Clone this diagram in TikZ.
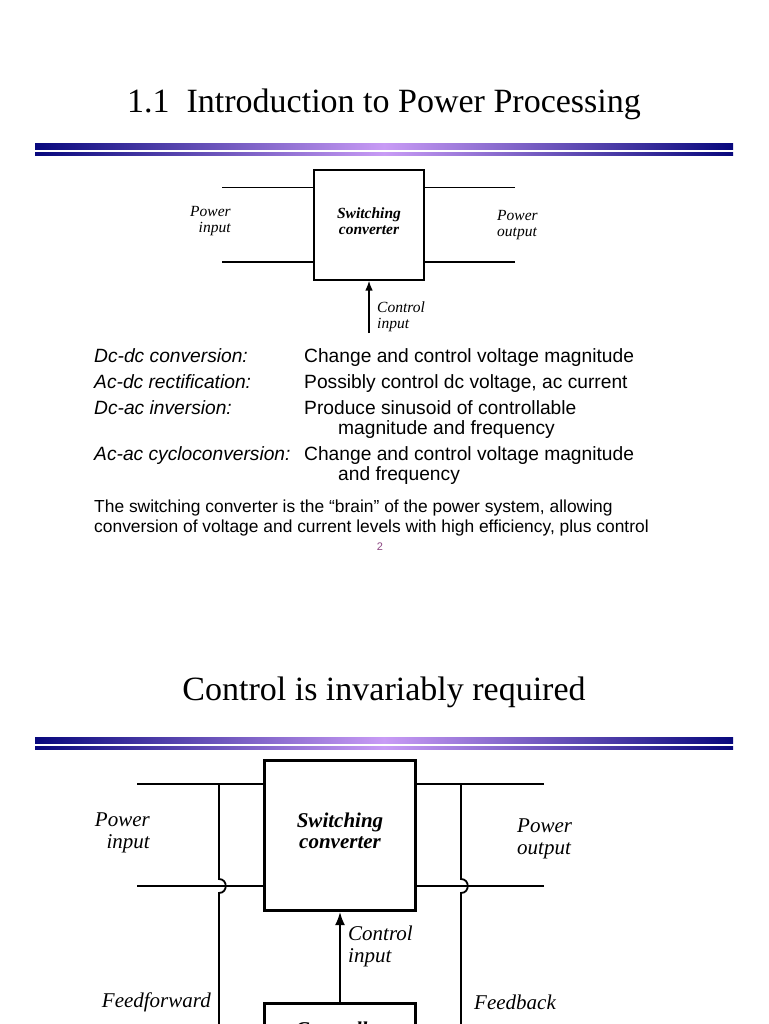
\documentclass[tikz,border=0pt]{standalone}
\usepackage{fontspec}
\setmainfont{Liberation Serif}
\setsansfont{Liberation Sans}
\usetikzlibrary{arrows.meta}
\definecolor{barnavy}{RGB}{8,8,125}
\definecolor{barlight}{RGB}{200,155,245}
\definecolor{pagenum}{RGB}{140,70,130}
\tikzset{
  ttl/.style={font=\fontsize{34}{36}\selectfont, anchor=base, inner sep=0},
  barA/.style={left color=barnavy, right color=barnavy, middle color=barlight, draw=none},
  labA/.style={font=\fontsize{15.5}{16}\selectfont\itshape, align=left, inner sep=0, anchor=north west},
  boxlabA/.style={font=\fontsize{15.5}{16}\selectfont\bfseries\itshape, align=center, inner sep=0},
  labB/.style={font=\fontsize{21}{21.5}\selectfont\itshape, inner sep=0},
  boxlabB/.style={font=\fontsize{21}{21.5}\selectfont\bfseries\itshape, align=center, inner sep=0},
  listL/.style={font=\sffamily\itshape\fontsize{19.2}{20}\selectfont, anchor=base west, inner sep=0},
  listR/.style={font=\sffamily\fontsize{19.2}{20}\selectfont, anchor=base west, inner sep=0},
  para/.style={font=\sffamily\fontsize{17.4}{20}\selectfont, anchor=base west, inner sep=0},
  wireA/.style={line width=1},
  wireAthick/.style={line width=2},
  wireB/.style={line width=1.8},
}
\begin{document}
\begin{tikzpicture}[x=1pt,y=-1pt]
\useasboundingbox (0,0) rectangle (768,1024);
\clip (0,0) rectangle (768,1024);
\fill[white] (0,0) rectangle (768,1024);

% ---------- slide 1 ----------
\node[ttl] (t1) at (384,113) {1.1\ \ Introduction to Power Processing};
\shade[barA] (35,143.5) rectangle (733,149.5);
\shade[barA] (35,152.5) rectangle (733,155.8);

\node[draw, line width=2, minimum width=110, minimum height=109, inner sep=0] (sc1) at (369,225) {};
\node[boxlabA] (sc1t) at (369,221) {Switching\\converter};

\coordinate (pi1a) at (222,188);
\coordinate (pi1b) at (222,261.5);
\coordinate (po1a) at (515,188);
\coordinate (po1b) at (515,261.5);
\draw[wireA] (pi1a) -- (pi1a -| sc1.west);
\draw[wireAthick] (pi1b) -- (pi1b -| sc1.west);
\draw[wireA] (po1a) -- (po1a -| sc1.east);
\draw[wireAthick] (po1b) -- (po1b -| sc1.east);
\coordinate (ci1) at (369,333);
\draw[line width=1.6, -{Latex[length=10,width=7.5]}] (ci1) -- (sc1.south);

\node[labA] (pin1) at (190,206) {Power\\\hspace{8.5pt}input};
\node[labA] (pout1) at (497,210) {Power\\output};
\node[labA] (cin1) at (377,302) {Control\\input};

\node[listL] (l1) at (94,362) {Dc-dc conversion:};
\node[listR] (r1) at (304,362) {Change and control voltage magnitude};
\node[listL] (l2) at (94,388) {Ac-dc rectification:};
\node[listR] (r2) at (304,388) {Possibly control dc voltage, ac current};
\node[listL] (l3) at (94,414) {Dc-ac inversion:};
\node[listR] (r3) at (304,414) {Produce sinusoid of controllable};
\node[listR] (r3b) at (338,434) {magnitude and frequency};
\node[listL] (l4) at (94,460) {Ac-ac cycloconversion:};
\node[listR] (r4) at (304,460) {Change and control voltage magnitude};
\node[listR] (r4b) at (338,480) {and frequency};

\node[para] (p1) at (94,512) {The switching converter is the “brain” of the power system, allowing};
\node[para] (p2) at (94,532) {conversion of voltage and current levels with high efficiency, plus control};
\node[font=\sffamily\fontsize{11}{12}\selectfont, text=pagenum, anchor=base, inner sep=0] (pg) at (380,550) {2};

% ---------- slide 2 ----------
\node[ttl] (t2) at (384,700) {Control is invariably required};
\shade[barA] (35,737.5) rectangle (733,743.5);
\shade[barA] (35,746.5) rectangle (733,749.8);

\node[draw, line width=3, minimum width=151, minimum height=150, inner sep=0] (sc2) at (340,835.5) {};
\node[boxlabB] (sc2t) at (340,831) {Switching\\converter};

\coordinate (pi2a) at (137,784);
\coordinate (pi2b) at (137,886);
\coordinate (po2a) at (544,784);
\coordinate (po2b) at (544,886);
\draw[wireB] (pi2a) -- (pi2a -| sc2.west);
\draw[wireB] (pi2b) -- (pi2b -| sc2.west);
\draw[wireB] (po2a) -- (po2a -| sc2.east);
\draw[wireB] (po2b) -- (po2b -| sc2.east);

\coordinate (ff1) at (219,784);
\coordinate (ff2) at (219,1040);
\coordinate (fb1) at (461,784);
\coordinate (fb2) at (461,1040);
\draw[wireB] (ff1) -- (219,879) .. controls (228,879) and (228,893) .. (219,893) -- (ff2);
\draw[wireB] (fb1) -- (461,879) .. controls (470,879) and (470,893) .. (461,893) -- (fb2);

\node[draw, line width=3, minimum width=151, minimum height=80, inner sep=0, anchor=north] (ctl) at (340,1001.5) {};
\node[boxlabB, anchor=base] (ctlt) at (340,1036) {Controller};
\draw[line width=1.8, -{Latex[length=13,width=10]}] (ctl.north) -- (sc2.south);

\node[labB, align=right, anchor=north east] (pin2) at (150,813) {Power\\input};
\node[labB, align=left, anchor=north west] (pout2) at (517,819) {Power\\output};
\node[labB, align=left, anchor=north west] (cin2) at (348,926) {Control\\input};
\node[labB, anchor=east] (ffl) at (211,1002) {Feedforward};
\node[labB, anchor=west] (fbl) at (474,1002) {Feedback};
\end{tikzpicture}
\end{document}
